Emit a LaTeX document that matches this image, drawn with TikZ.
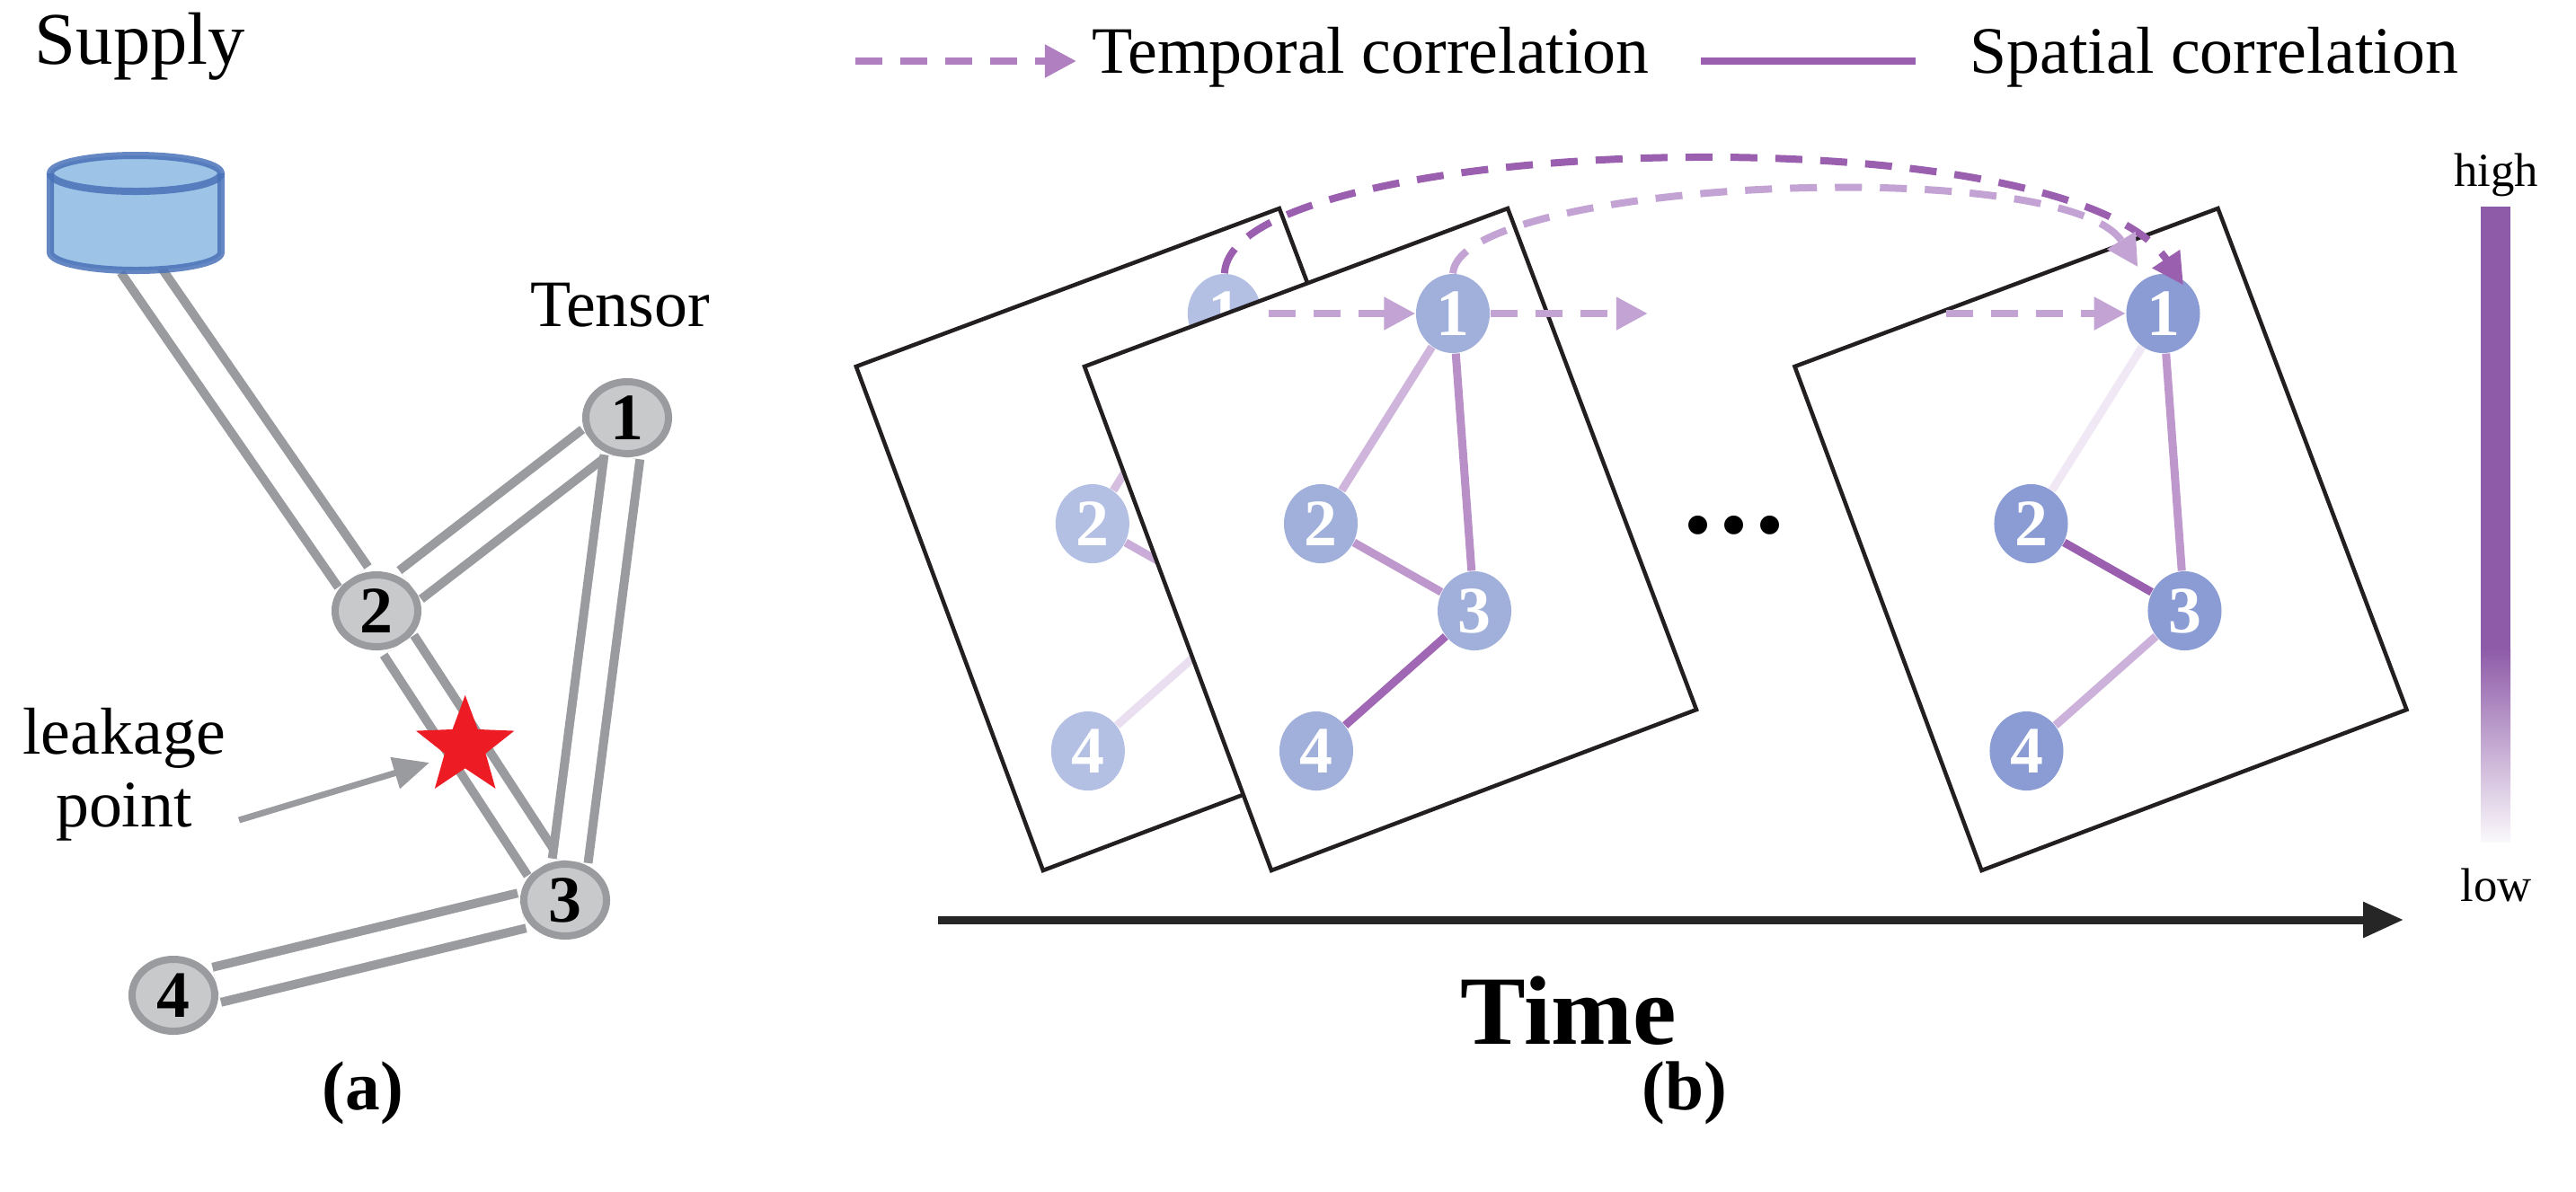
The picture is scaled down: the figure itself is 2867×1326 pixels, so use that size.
\documentclass[tikz,border=0pt]{standalone}
\usepackage{fontspec}
\setmainfont{Liberation Serif}
\usetikzlibrary{shapes.geometric,arrows.meta,calc}

\definecolor{pipegray}{HTML}{9A9B9E}
\definecolor{nodegray}{HTML}{C8C9CB}
\definecolor{tankfill}{HTML}{9DC3E6}
\definecolor{tankdraw}{HTML}{4A72B8}
\definecolor{leakred}{HTML}{ED1C24}
\definecolor{framek}{HTML}{231F20}
\definecolor{tempdark}{HTML}{9B5FB0}
\definecolor{templight}{HTML}{C3A3D3}
\definecolor{barpurple}{HTML}{8E5BA8}
\definecolor{sensA}{HTML}{B3C0E3}
\definecolor{sensB}{HTML}{A1B0DA}
\definecolor{sensC}{HTML}{8A9CD3}

\tikzset{
  pipe/.style={draw=pipegray, line width=0.1cm, double=white, double distance=0.3cm},
  junction/.style={ellipse, fill=nodegray, draw=pipegray, line width=0.08cm,
    minimum width=0.92cm, minimum height=0.8cm, inner sep=0pt, font=\fontsize{21}{22}\selectfont\bfseries},
  sensor/.style={ellipse, minimum width=0.82cm, minimum height=0.88cm, inner sep=0pt,
    text=white, font=\fontsize{21}{22}\selectfont\bfseries},
  snap/.style={draw=framek, line width=0.045cm, fill=white},
  corr/.style={line width=0.09cm},
  temporal/.style={dash pattern=on 0.3cm off 0.2cm, line width=0.08cm, -{Triangle[length=0.35cm,width=0.35cm]}},
  lbl/.style={font=\fontsize{21}{25}\selectfont},
  tankline/.style={draw=tankdraw, draw opacity=0.85, line width=0.08cm}
}

% one snapshot of the sensor graph: prefix, shift, node colour, edge colours 12 13 23 34
\newcommand{\snapshot}[7]{
  \begin{scope}[xshift=#2]
    \draw[snap] (1207,408) -- (1678,232) -- (1888,790) -- (1415,969) -- cycle;
    \node[sensor, fill=#3] (#1n1) at (1617,349) {1};
    \node[sensor, fill=#3] (#1n2) at (1470,583) {2};
    \node[sensor, fill=#3] (#1n3) at (1641,680) {3};
    \node[sensor, fill=#3] (#1n4) at (1465,836) {4};
    \draw[corr, #4] (#1n1) -- (#1n2);
    \draw[corr, #5] (#1n1) -- (#1n3);
    \draw[corr, #6] (#1n2) -- (#1n3);
    \draw[corr, #7] (#1n3) -- (#1n4);
  \end{scope}
}

\begin{document}
\begin{tikzpicture}[x=0.01cm, y=-0.01cm]
\useasboundingbox (0,0) rectangle (2867,1326);

% (a) pipe network
\node[lbl, font=\fontsize{23.5}{26}\selectfont] (supplylabel) at (156,52) {Supply};
\coordinate (supply) at (151,292);
\node[lbl] (tensorlabel) at (690,340) {Tensor};
\node[junction] (ln1) at (698,465) {1};
\node[junction] (ln2) at (419,680) {2};
\node[junction] (ln3) at (629,1002) {3};
\node[junction] (ln4) at (193,1108) {4};
\draw[pipe] (supply) -- (ln2);
\draw[pipe] (ln2) -- (ln1);
\draw[pipe] (ln2) -- (ln3);
\draw[pipe] (ln1) -- (ln3);
\draw[pipe] (ln3) -- (ln4);
% tank
\fill[tankfill] (56,193) -- (56,281) arc[start angle=180, end angle=0, x radius=95, y radius=20]
  -- (246,193) arc[start angle=0, end angle=-180, x radius=95, y radius=20] -- cycle;
\draw[tankline] (56,193) -- (56,281)
  arc[start angle=180, end angle=0, x radius=95, y radius=20] -- (246,193);
\draw[tankline] (151,193) ellipse[x radius=95, y radius=20];
\node[star, star points=5, star point ratio=2.4, fill=leakred, minimum size=1.15cm, inner sep=0pt] (leak) at ($(ln2)!0.47!(ln3)$) {};
\node[lbl, align=center] (leaklabel) at (138,862) {leakage\\[-2pt]point};
\coordinate (leaktail) at (266,913);
\coordinate (leaktip) at (478,849);
\draw[pipegray, line width=0.07cm, -{Triangle[length=0.4cm,width=0.35cm]}] (leaktail) -- (leaktip);
\node[lbl, font=\fontsize{22}{25}\selectfont\bfseries] (capa) at (404,1217) {(a)};

% (b) legend
\coordinate (legt1) at (952,68);
\coordinate (legt2) at (1198,68);
\draw[temporal, draw=tempdark!80] (legt1) -- (legt2);
\node[lbl, anchor=west] (legtemp) at (1203,64) {Temporal correlation};
\coordinate (legs1) at (1893,68);
\coordinate (legs2) at (2132,68);
\draw[line width=0.08cm, tempdark] (legs1) -- (legs2);
\node[lbl, anchor=west] (legspat) at (2180,64) {Spatial correlation};

% (b) snapshots
\snapshot{a}{-2.54cm}{sensA}{templight!70}{templight}{templight!90}{templight!35}
\snapshot{b}{0cm}{sensB}{templight!80}{tempdark!70}{tempdark!65}{tempdark!95}
\snapshot{c}{7.9cm}{sensC}{templight!25}{tempdark!65}{tempdark}{templight!85}

\node[font=\fontsize{22}{22}\selectfont\bfseries] (dots) at (1930,592) {\textbullet\,\textbullet\,\textbullet};

\draw[temporal, templight] ([xshift=2pt]an1.east) -- (bn1.west);
\draw[temporal, templight] (bn1.east) -- ++(1.75cm,0) coordinate (gap1);
\draw[temporal, templight] ([xshift=-2.0cm]cn1.west) coordinate (gap2) -- (cn1.west);
\draw[temporal, tempdark] (an1.north) .. controls (1370,150) and (2300,120) .. ([xshift=-2pt]cn1.north east);
\draw[temporal, templight] (bn1.north) .. controls (1625,200) and (2300,170) .. ([xshift=-8pt, yshift=2pt]cn1.north);

% time axis
\coordinate (t0) at (1044,1024);
\coordinate (t1) at (2675,1024);
\draw[line width=0.09cm, black!85, -{Triangle[length=0.45cm,width=0.38cm]}] (t0) -- (t1);
\node[font=\fontsize{31}{34}\selectfont\bfseries] (timelabel) at (1746,1125) {Time};
\node[lbl, font=\fontsize{22}{25}\selectfont\bfseries] (capb) at (1875,1217) {(b)};

% colour bar
\fill[barpurple] (2761,230) rectangle (2794,722);
\shade[top color=barpurple, bottom color=barpurple!4] (2761,722) rectangle (2794,937);
\node[font=\fontsize{15}{16}\selectfont] (barhigh) at (2778,195) {high};
\node[font=\fontsize{15}{16}\selectfont] (barlow) at (2778,985) {low};
\end{tikzpicture}
\end{document}
